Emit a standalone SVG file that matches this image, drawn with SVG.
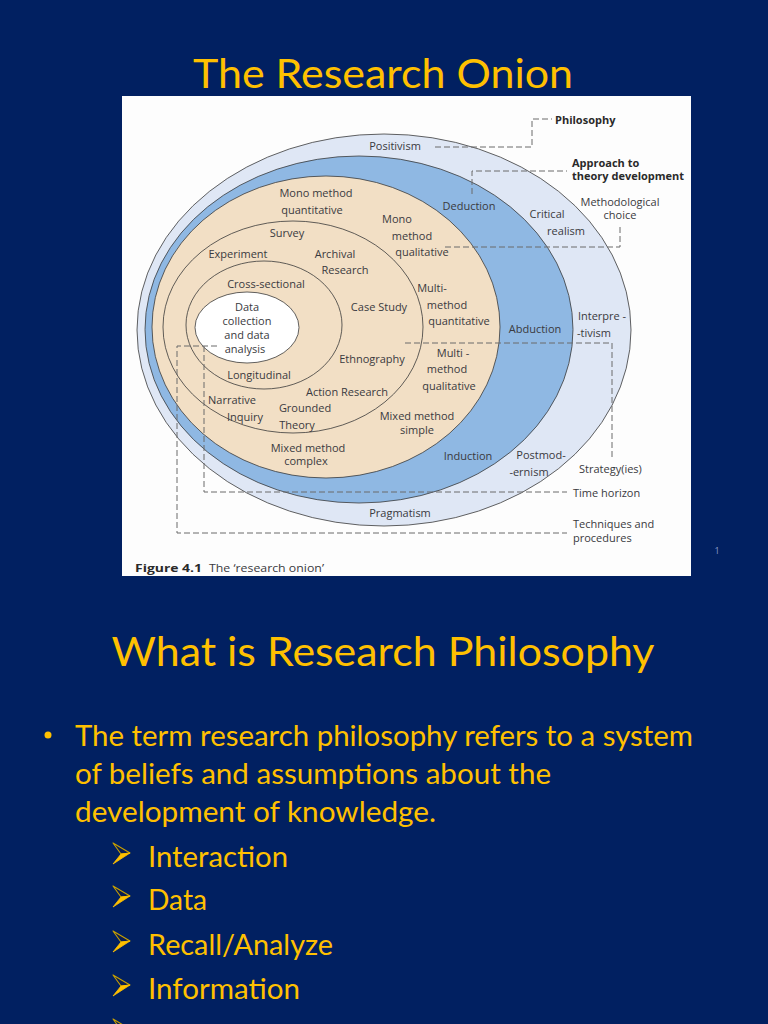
<svg xmlns="http://www.w3.org/2000/svg" width="768" height="1024" viewBox="0 0 768 1024">
<defs>
<style>
.lbl{font-family:"Open Sans","Liberation Sans",sans-serif;font-size:11px;fill:#3a3a40;text-anchor:middle}
.lft{text-anchor:start}
.bold{font-weight:bold;fill:#2a2a2a}
.dash{fill:none;stroke:#6a6a6a;stroke-width:1;stroke-dasharray:6 3}
.slide{font-family:Lato,"Open Sans",sans-serif;fill:#FFC000}
.ring{stroke:#3a3a3a;stroke-width:0.8}
</style>
<g id="arrowbullet">
<path d="M1,-24 L18,-14 L9,-13 Z" fill="#0a1d50" stroke="#c9a100" stroke-width="1.1" stroke-linejoin="round"/>
<path d="M9,-13 L18,-14 L1,-3 Z" fill="#FFC000" stroke="#FFC000" stroke-width="0.8" stroke-linejoin="round"/>
</g>
</defs>
<rect width="768" height="1024" fill="#012061"/>
<text class="slide" x="383" y="88" font-size="40" text-anchor="middle" textLength="380" lengthAdjust="spacingAndGlyphs">The Research Onion</text>

<g id="figure">
<rect x="122" y="96" width="569" height="480" fill="#fdfdfd"/>
<g id="layers">
<ellipse id="philosophy-layer" class="ring" cx="384" cy="330" rx="247" ry="196" fill="#dfe7f5"/>
<ellipse id="approach-layer" class="ring" cx="359" cy="329.5" rx="214" ry="173.5" fill="#8fb8e3"/>
<ellipse id="choice-layer" class="ring" cx="326" cy="327" rx="174" ry="151" fill="#f2dfc5"/>
<ellipse id="strategy-layer" class="ring" cx="293" cy="327" rx="130" ry="106" fill="#f2dfc5"/>
<ellipse id="time-layer" class="ring" cx="264" cy="325" rx="78" ry="64" fill="#f2dfc5"/>
<ellipse id="core" class="ring" cx="247" cy="327.5" rx="52" ry="35.5" fill="#ffffff"/>
</g>
<g id="connectors">
<path class="dash" d="M435,147 H532 V119 H552"/>
<path class="dash" d="M472,194 V171 H567"/>
<path class="dash" d="M445,247 H620 V225"/>
<path class="dash" d="M405,343 H612 V460"/>
<path class="dash" d="M217,346 H177 V533 H567"/>
<path class="dash" d="M204,346 V492 H567"/>
</g>
<g id="labels">
<text class="lbl" x="395" y="150">Positivism</text>
<text class="lbl" x="316" y="197">Mono method</text>
<text class="lbl" x="312" y="214">quantitative</text>
<text class="lbl" x="397" y="223">Mono</text>
<text class="lbl" x="412" y="240">method</text>
<text class="lbl" x="422" y="256">qualitative</text>
<text class="lbl" x="469" y="210">Deduction</text>
<text class="lbl" x="547" y="218">Critical</text>
<text class="lbl" x="566" y="235">realism</text>
<text class="lbl" x="287" y="237">Survey</text>
<text class="lbl" x="238" y="258">Experiment</text>
<text class="lbl" x="335" y="258">Archival</text>
<text class="lbl" x="345" y="274">Research</text>
<text class="lbl" x="266" y="288">Cross-sectional</text>
<text class="lbl" x="247" y="311">Data</text>
<text class="lbl" x="247" y="325">collection</text>
<text class="lbl" x="247" y="339">and data</text>
<text class="lbl" x="245" y="353">analysis</text>
<text class="lbl" x="379" y="311">Case Study</text>
<text class="lbl" x="432" y="292">Multi-</text>
<text class="lbl" x="447" y="309">method</text>
<text class="lbl" x="459" y="325">quantitative</text>
<text class="lbl" x="535" y="333">Abduction</text>
<text class="lbl" x="602" y="320">Interpre -</text>
<text class="lbl" x="594" y="337">-tivism</text>
<text class="lbl" x="453" y="357">Multi -</text>
<text class="lbl" x="447" y="373">method</text>
<text class="lbl" x="449" y="390">qualitative</text>
<text class="lbl" x="372" y="363">Ethnography</text>
<text class="lbl" x="259" y="379">Longitudinal</text>
<text class="lbl" x="347" y="396">Action Research</text>
<text class="lbl" x="232" y="404">Narrative</text>
<text class="lbl" x="245" y="421">Inquiry</text>
<text class="lbl" x="305" y="412">Grounded</text>
<text class="lbl" x="297" y="429">Theory</text>
<text class="lbl" x="417" y="420">Mixed method</text>
<text class="lbl" x="417" y="434">simple</text>
<text class="lbl" x="308" y="452">Mixed method</text>
<text class="lbl" x="306" y="465">complex</text>
<text class="lbl" x="468" y="460">Induction</text>
<text class="lbl" x="541" y="459">Postmod-</text>
<text class="lbl" x="529" y="476">-ernism</text>
<text class="lbl" x="400" y="517">Pragmatism</text>
<text class="lbl lft bold" x="555" y="124">Philosophy</text>
<text class="lbl lft bold" x="572" y="167">Approach to</text>
<text class="lbl lft bold" x="572" y="180">theory development</text>
<text class="lbl" x="620" y="206">Methodological</text>
<text class="lbl" x="620" y="219">choice</text>
<text class="lbl lft" x="579" y="473">Strategy(ies)</text>
<text class="lbl lft" x="573" y="497">Time horizon</text>
<text class="lbl lft" x="573" y="528">Techniques and</text>
<text class="lbl lft" x="573" y="542">procedures</text>
<text class="lbl lft bold" x="135" y="572" font-size="13" textLength="67" lengthAdjust="spacingAndGlyphs" fill="#333">Figure 4.1</text>
<text class="lbl lft" x="209" y="572" font-size="12" textLength="115" lengthAdjust="spacingAndGlyphs">The ‘research onion’</text>
</g>
</g>
<text x="717" y="554" font-family="Open Sans,sans-serif" font-size="9" fill="#8a9cc8" text-anchor="middle">1</text>

<text class="slide" x="383" y="666" font-size="40" text-anchor="middle" textLength="543" lengthAdjust="spacingAndGlyphs">What is Research Philosophy</text>
<circle cx="48" cy="735" r="3.5" fill="#FFC000"/>
<text class="slide" x="75" y="746" font-size="28" textLength="618" lengthAdjust="spacingAndGlyphs">The term research philosophy refers to a system</text>
<text class="slide" x="75" y="784" font-size="28" textLength="476" lengthAdjust="spacingAndGlyphs">of beliefs and assumptions about the</text>
<text class="slide" x="75" y="822" font-size="28" textLength="361" lengthAdjust="spacingAndGlyphs">development of knowledge.</text>
<use href="#arrowbullet" x="112" y="867"/>
<text class="slide" x="148" y="867" font-size="28" textLength="140" lengthAdjust="spacingAndGlyphs">Interaction</text>
<use href="#arrowbullet" x="112" y="910"/>
<text class="slide" x="148" y="910" font-size="28" textLength="59" lengthAdjust="spacingAndGlyphs">Data</text>
<use href="#arrowbullet" x="112" y="955"/>
<text class="slide" x="148" y="955" font-size="28" textLength="185" lengthAdjust="spacingAndGlyphs">Recall/Analyze</text>
<use href="#arrowbullet" x="112" y="999"/>
<text class="slide" x="148" y="999" font-size="28" textLength="152" lengthAdjust="spacingAndGlyphs">Information</text>
<use href="#arrowbullet" x="112" y="1043"/>
</svg>
